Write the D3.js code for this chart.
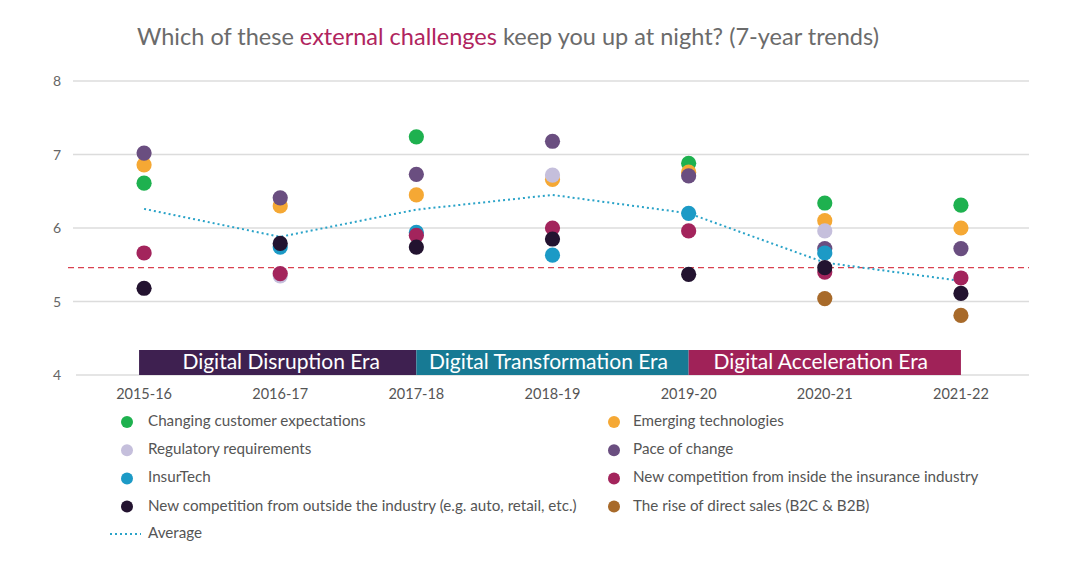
<!DOCTYPE html>
<html><head><meta charset="utf-8">
<script src="https://cdn.jsdelivr.net/npm/d3@7"></script>
<style>body{margin:0;background:#fff;} svg{display:block;font-family:Lato, sans-serif;}</style>
</head><body>
<svg id="chart" width="1080" height="571"></svg>
<script>
const years = ["2015-16","2016-17","2017-18","2018-19","2019-20","2020-21","2021-22"];
const yTicks = [4,5,6,7,8];
const changingCustomer = [6.61, null, 7.24, null, 6.88, 6.34, 6.31];
const emergingTech     = [6.86, 6.30, 6.45, 6.66, 6.76, 6.10, 6.00];
const regulatory       = [null, 5.35, 5.92, 6.72, null, 5.96, null];
const paceOfChange     = [7.02, 6.41, 6.73, 7.18, 6.71, 5.72, 5.72];
const insurTech        = [null, 5.74, 5.94, 5.63, 6.20, 5.66, null];
const compInside       = [5.66, 5.38, 5.90, 6.00, 5.96, 5.40, 5.32];
const compOutside      = [5.18, 5.79, 5.74, 5.85, 5.37, 5.46, 5.11];
const directSales      = [null, null, null, null, null, 5.04, 4.81];
const average          = [6.26, 5.88, 6.25, 6.45, 6.20, 5.53, 5.28];
const overallMean = 5.46;
const eras = [
  {name:"Digital Disruption Era", from:"2015-16", to:"2017-18", color:"#3e2050"},
  {name:"Digital Transformation Era", from:"2017-18", to:"2019-20", color:"#177a94"},
  {name:"Digital Acceleration Era", from:"2019-20", to:"2021-22", color:"#a02258"}
];
const series = [
  {name:"Changing customer expectations", values:changingCustomer, color:"#1eb14f"},
  {name:"Emerging technologies", values:emergingTech, color:"#f5a834"},
  {name:"Regulatory requirements", values:regulatory, color:"#c5bfdc"},
  {name:"Pace of change", values:paceOfChange, color:"#6a4e80"},
  {name:"InsurTech", values:insurTech, color:"#1c9ac6"},
  {name:"New competition from inside the insurance industry", values:compInside, color:"#a3245c"},
  {name:"New competition from outside the industry (e.g. auto, retail, etc.)", values:compOutside, color:"#231330"},
  {name:"The rise of direct sales (B2C & B2B)", values:directSales, color:"#a86a2a"}
];
const legendLeft = ["Changing customer expectations","Regulatory requirements","InsurTech","New competition from outside the industry (e.g. auto, retail, etc.)"];
const legendRight = ["Emerging technologies","Pace of change","New competition from inside the insurance industry","The rise of direct sales (B2C & B2B)"];

const svg = d3.select("#chart");
const x = d3.scaleBand().domain(years).range([76, 1029]);
const cx = d => x(d) + x.bandwidth()/2;
const y = d3.scaleLinear().domain([4,8]).range([375, 81]);

// title
const title = svg.append("text").attr("x", 508).attr("y", 45).attr("text-anchor","middle")
  .attr("font-size", 23).attr("fill", "#6b6b6b");
title.append("tspan").text("Which of these ");
title.append("tspan").attr("fill","#b0245e").text("external challenges");
title.append("tspan").text(" keep you up at night? (7-year trends)");
title.attr("textLength", 742).attr("lengthAdjust","spacingAndGlyphs");

// grid
const grid = svg.append("g");
yTicks.forEach(t => {
  grid.append("line").attr("x1", t===4?76:73).attr("x2", 1029).attr("y1", y(t)).attr("y2", y(t))
    .attr("stroke", "#dcdcdc").attr("stroke-width", 1.5);
  grid.append("text").attr("x", 61).attr("y", y(t)+5).attr("text-anchor","end")
    .attr("font-size", 14).attr("fill", "#666").text(t);
});

// eras
eras.forEach((e, i) => {
  const x0 = i === 0 ? cx(e.from) - 5 : cx(e.from);
  const x1 = cx(e.to);
  const g = svg.append("g");
  g.append("rect").attr("x", x0).attr("y", y(4)-25)
    .attr("width", x1 - x0).attr("height", 25).attr("fill", e.color);
  g.append("text").attr("x", (cx(e.from) + x1)/2 - (i===0 ? -1 : 4)).attr("y", y(4)-6).attr("text-anchor","middle")
    .attr("font-size", 21).attr("fill", "#fff").text(e.name);
});

// x labels
years.forEach(yr => {
  svg.append("text").attr("x", cx(yr)).attr("y", 399).attr("text-anchor","middle")
    .attr("font-size", 14.5).attr("fill", "#555").text(yr);
});

// mean dashed line
svg.append("line").attr("x1", 68).attr("x2", 1029).attr("y1", y(overallMean)).attr("y2", y(overallMean))
  .attr("stroke", "#d9414f").attr("stroke-width", 1.3).attr("stroke-dasharray", "6,4");

// average dotted line
const line = d3.line().x((d,i) => cx(years[i])).y(d => y(d));
svg.append("path").attr("d", line(average)).attr("fill","none")
  .attr("stroke", "#2aa3c8").attr("stroke-width", 2).attr("stroke-dasharray", "2,3");

// dots
series.forEach(s => {
  svg.append("g").selectAll("circle").data(s.values.map((v,i)=>({v, yr: years[i]})).filter(d => d.v !== null))
    .join("circle").attr("cx", d => cx(d.yr)).attr("cy", d => y(d.v)).attr("r", 7.6).attr("fill", s.color);
});

// legend
const colorOf = n => series.find(s => s.name === n).color;
function legendCol(names, mx, tx) {
  names.forEach((n, i) => {
    const yy = 421 + i*28.2;
    svg.append("circle").attr("cx", mx).attr("cy", yy+1).attr("r", 6).attr("fill", colorOf(n));
    svg.append("text").attr("x", tx).attr("y", yy+5).attr("font-size", 15.2).attr("fill", "#555").text(n);
  });
}
legendCol(legendLeft, 127, 148);
legendCol(legendRight, 614, 633);
svg.append("line").attr("x1", 110).attr("x2", 141).attr("y1", 534).attr("y2", 534)
  .attr("stroke", "#2aa3c8").attr("stroke-width", 2).attr("stroke-dasharray", "2,3");
svg.append("text").attr("x", 148).attr("y", 538).attr("font-size", 15.2).attr("fill", "#555").text("Average");
</script>
</body></html>
